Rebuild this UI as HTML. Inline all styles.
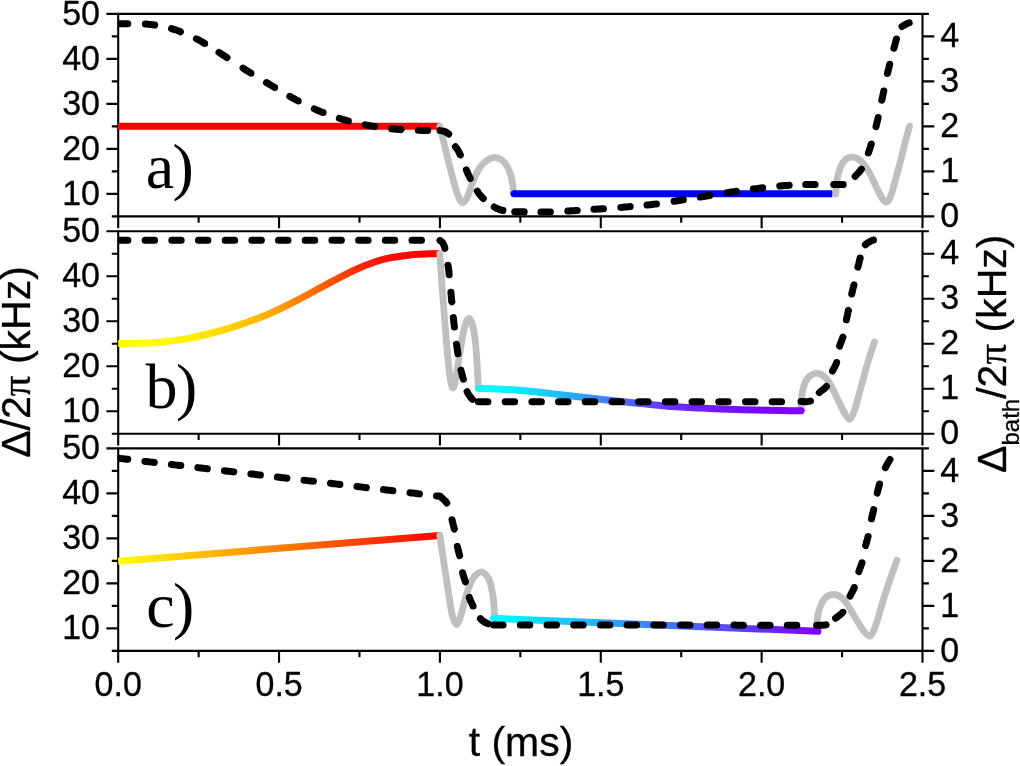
<!DOCTYPE html>
<html><head><meta charset="utf-8"><title>Detuning ramps</title>
<style>html,body{margin:0;padding:0;background:#fff;overflow:hidden}svg{display:block}</style>
</head><body>
<svg width="1020" height="766" viewBox="0 0 1020 766">
<defs>
<linearGradient id="gb1" gradientUnits="userSpaceOnUse" x1="118.2" y1="0" x2="439.6" y2="0"><stop offset="0.000" stop-color="#ffff00"/><stop offset="0.058" stop-color="#fffe00"/><stop offset="0.118" stop-color="#fffc00"/><stop offset="0.205" stop-color="#fff200"/><stop offset="0.292" stop-color="#ffe100"/><stop offset="0.380" stop-color="#ffc900"/><stop offset="0.467" stop-color="#ffac00"/><stop offset="0.554" stop-color="#ff8500"/><stop offset="0.650" stop-color="#ff5700"/><stop offset="0.746" stop-color="#ff2a00"/><stop offset="0.834" stop-color="#ff0e00"/><stop offset="0.921" stop-color="#ff0300"/><stop offset="0.970" stop-color="#ff0100"/><stop offset="1.000" stop-color="#ff0000"/></linearGradient>
<linearGradient id="gb2" gradientUnits="userSpaceOnUse" x1="478.6" y1="0" x2="801.2" y2="0"><stop offset="0.000" stop-color="#00ffff"/><stop offset="0.083" stop-color="#06f4ff"/><stop offset="0.165" stop-color="#12dcff"/><stop offset="0.247" stop-color="#22bbff"/><stop offset="0.329" stop-color="#3399ff"/><stop offset="0.411" stop-color="#4576ff"/><stop offset="0.493" stop-color="#5557ff"/><stop offset="0.531" stop-color="#5b49ff"/><stop offset="0.600" stop-color="#6731ff"/><stop offset="0.687" stop-color="#711fff"/><stop offset="0.774" stop-color="#7712ff"/><stop offset="0.861" stop-color="#7b09ff"/><stop offset="0.934" stop-color="#7e03ff"/><stop offset="1.000" stop-color="#8000ff"/></linearGradient>
<linearGradient id="gc1" gradientUnits="userSpaceOnUse" x1="118.2" y1="0" x2="439.6" y2="0"><stop offset="0.000" stop-color="#ffff00"/><stop offset="1.000" stop-color="#ff0000"/></linearGradient>
<linearGradient id="gc2" gradientUnits="userSpaceOnUse" x1="493.5" y1="0" x2="817.9" y2="0"><stop offset="0.000" stop-color="#00ffff"/><stop offset="1.000" stop-color="#8000ff"/></linearGradient>
<clipPath id="clipa"><rect x="117.9" y="13.9" width="804.5999999999999" height="202.5"/></clipPath>
<clipPath id="clipb"><rect x="117.9" y="231.2" width="804.5999999999999" height="202.5"/></clipPath>
<clipPath id="clipc"><rect x="117.9" y="448.4" width="804.5999999999999" height="202.5"/></clipPath>
</defs>
<rect width="1020" height="766" fill="#fff"/>
<g stroke="#000" stroke-width="2.1" fill="none" stroke-linecap="butt">
<path d="M118.2,13.9 H922.5 M118.2,216.4 H922.5 M118.2,12.9 V217.4 M922.5,12.9 V217.4"/>
<path d="M118.2,216.40 h-6.4 M118.2,193.90 h-11.8 M118.2,171.40 h-6.4 M118.2,148.90 h-11.8 M118.2,126.40 h-6.4 M118.2,103.90 h-11.8 M118.2,81.40 h-6.4 M118.2,58.90 h-11.8 M118.2,36.40 h-6.4 M118.2,13.90 h-11.8 M922.5,216.40 h11.8 M922.5,193.90 h6.4 M922.5,171.40 h11.8 M922.5,148.90 h6.4 M922.5,126.40 h11.8 M922.5,103.90 h6.4 M922.5,81.40 h11.8 M922.5,58.90 h6.4 M922.5,36.40 h11.8 M922.5,13.90 h6.4 M118.20,216.4 v11.8 M198.63,216.4 v6.4 M279.06,216.4 v11.8 M359.49,216.4 v6.4 M439.92,216.4 v11.8 M520.35,216.4 v6.4 M600.78,216.4 v11.8 M681.21,216.4 v6.4 M761.64,216.4 v11.8 M842.07,216.4 v6.4 M922.50,216.4 v11.8 "/>
<path d="M118.2,231.2 H922.5 M118.2,433.7 H922.5 M118.2,230.2 V434.7 M922.5,230.2 V434.7"/>
<path d="M118.2,433.70 h-6.4 M118.2,411.20 h-11.8 M118.2,388.70 h-6.4 M118.2,366.20 h-11.8 M118.2,343.70 h-6.4 M118.2,321.20 h-11.8 M118.2,298.70 h-6.4 M118.2,276.20 h-11.8 M118.2,253.70 h-6.4 M118.2,231.20 h-11.8 M922.5,433.70 h11.8 M922.5,411.20 h6.4 M922.5,388.70 h11.8 M922.5,366.20 h6.4 M922.5,343.70 h11.8 M922.5,321.20 h6.4 M922.5,298.70 h11.8 M922.5,276.20 h6.4 M922.5,253.70 h11.8 M922.5,231.20 h6.4 M118.20,433.7 v11.8 M198.63,433.7 v6.4 M279.06,433.7 v11.8 M359.49,433.7 v6.4 M439.92,433.7 v11.8 M520.35,433.7 v6.4 M600.78,433.7 v11.8 M681.21,433.7 v6.4 M761.64,433.7 v11.8 M842.07,433.7 v6.4 M922.50,433.7 v11.8 "/>
<path d="M118.2,448.4 H922.5 M118.2,650.9 H922.5 M118.2,447.4 V651.9 M922.5,447.4 V651.9"/>
<path d="M118.2,650.90 h-6.4 M118.2,628.40 h-11.8 M118.2,605.90 h-6.4 M118.2,583.40 h-11.8 M118.2,560.90 h-6.4 M118.2,538.40 h-11.8 M118.2,515.90 h-6.4 M118.2,493.40 h-11.8 M118.2,470.90 h-6.4 M118.2,448.40 h-11.8 M922.5,650.90 h11.8 M922.5,628.40 h6.4 M922.5,605.90 h11.8 M922.5,583.40 h6.4 M922.5,560.90 h11.8 M922.5,538.40 h6.4 M922.5,515.90 h11.8 M922.5,493.40 h6.4 M922.5,470.90 h11.8 M922.5,448.40 h6.4 M118.20,650.9 v11.8 M198.63,650.9 v6.4 M279.06,650.9 v11.8 M359.49,650.9 v6.4 M439.92,650.9 v11.8 M520.35,650.9 v6.4 M600.78,650.9 v11.8 M681.21,650.9 v6.4 M761.64,650.9 v11.8 M842.07,650.9 v6.4 M922.50,650.9 v11.8 "/>
</g>
<g clip-path="url(#clipa)">
<path d="M117.9,126.2 L439.9,126.2" stroke="#ff0000" stroke-width="7.0" fill="none"/>
<path d="M439.9,126.1C441.5,132.6 443.0,139.2 444.6,145.7C446.4,153.0 448.2,160.4 450.1,167.7C451.8,174.5 453.5,181.3 455.5,188.0C456.6,191.8 457.7,195.8 459.5,199.2C460.2,200.6 462.0,202.8 463.1,202.5C464.6,202.1 466.3,199.1 467.3,197.0C469.8,191.6 471.3,185.7 473.6,180.2C475.4,175.9 477.2,171.5 479.8,167.7C481.9,164.7 484.6,161.7 487.7,159.8C490.1,158.3 493.6,157.0 496.3,157.5C499.4,158.1 502.8,160.5 504.9,163.0C507.5,166.0 509.1,170.1 510.4,173.9C511.8,177.9 512.3,182.3 513.0,186.5C513.4,188.9 513.3,191.3 513.5,193.7" fill="none" stroke="#bfbfbf" stroke-width="6.8" stroke-linecap="round" stroke-linejoin="round" />
<path d="M835.7,194.0C836.1,189.4 836.1,184.7 836.9,180.2C837.8,175.4 839.0,170.5 840.9,166.1C842.1,163.4 844.1,160.7 846.3,159.0C848.0,157.7 850.6,157.0 852.6,157.2C855.3,157.5 858.3,158.8 860.4,160.6C863.6,163.3 866.1,167.2 868.3,170.8C871.0,175.3 873.0,180.2 875.3,184.9C877.4,189.1 879.2,193.5 881.6,197.4C882.7,199.2 884.6,202.1 886.0,202.1C887.4,202.1 889.4,199.3 890.2,197.4C892.3,192.5 893.4,187.0 894.9,181.8C897.1,174.0 899.2,166.1 901.2,158.3C902.8,152.0 904.3,145.8 905.9,139.5C907.1,135.0 908.3,130.6 909.5,126.1" fill="none" stroke="#bfbfbf" stroke-width="6.8" stroke-linecap="round" stroke-linejoin="round" />
<path d="M514.0,193.7 L832.3,193.7" stroke="#0000ff" stroke-width="7.0" fill="none"/>
<circle cx="514.0" cy="193.7" r="3.5" fill="#0000ff"/>
<path d="M118.3,23.7 L120.1,23.7 L121.6,23.7 L123.2,23.7 L124.7,23.7 L126.3,23.7 L127.8,23.7 L127.8,23.7 M145.3,24.1 L146.9,24.1 L148.4,24.3 L150.0,24.4 L151.6,24.6 L153.1,24.8 L154.7,25.0 L154.7,25.0 M171.5,28.6 L173.0,29.1 L174.5,29.5 L176.0,30.0 L177.5,30.5 L178.9,31.1 L180.3,31.6 L180.4,31.7 M196.4,38.8 L197.9,39.5 L199.2,40.2 L200.6,41.0 L201.9,41.8 L203.3,42.6 L204.6,43.4 L204.7,43.4 M219.0,52.4 L220.4,53.3 L221.7,54.2 L223.0,55.0 L224.3,55.8 L225.6,56.7 L226.9,57.5 L227.0,57.6 M243.0,68.1 L244.4,69.0 L245.7,69.9 L247.0,70.7 L248.3,71.5 L249.6,72.3 L250.9,73.2 L251.0,73.2 M266.5,82.6 L267.9,83.4 L269.3,84.2 L270.6,85.0 L271.9,85.8 L273.2,86.6 L274.6,87.4 L274.7,87.4 M289.8,96.4 L291.3,97.2 L292.6,98.0 L294.0,98.7 L295.4,99.4 L296.7,100.2 L298.1,100.9 L298.2,100.9 M314.3,108.9 L315.9,109.6 L317.3,110.2 L318.7,110.8 L320.1,111.4 L321.6,112.0 L323.0,112.6 L323.1,112.6 M339.3,118.3 L340.8,118.8 L342.3,119.3 L343.8,119.7 L345.3,120.1 L346.8,120.5 L348.3,121.0 L348.4,121.0 M365.3,124.9 L367.0,125.2 L368.5,125.5 L370.0,125.8 L371.5,126.1 L373.0,126.3 L374.6,126.6 L374.7,126.6 M391.6,128.8 L393.2,128.9 L394.8,129.1 L396.3,129.2 L397.8,129.3 L399.4,129.4 L400.9,129.5 L401.0,129.6 M418.3,130.3 L419.9,130.3 L421.4,130.4 L423.0,130.4 L424.6,130.4 L426.1,130.5 L427.7,130.5 L427.7,130.5" fill="none" stroke="#000" stroke-width="7.0" stroke-linecap="round" stroke-linejoin="round"/>
<path d="M440.0,130.6 L441.9,130.9 L443.5,131.1 L445.0,131.6 L446.4,132.4 L447.8,133.3 L448.7,134.0 M455.4,146.8 L456.4,148.0 L457.4,149.3 L458.2,150.6 L458.9,152.0 L459.6,153.4 L460.2,154.8 L460.3,154.9 M466.3,169.9 L467.0,171.5 L467.6,172.9 L468.2,174.3 L468.9,175.7 L469.6,177.1 L470.3,178.6 L470.3,178.6 M477.3,191.1 L478.2,192.5 L479.1,193.8 L480.1,195.0 L481.1,196.2 L482.2,197.4 L483.3,198.5 L483.3,198.5 M494.2,207.0 L495.6,207.8 L497.0,208.5 L498.4,209.1 L499.9,209.7 L501.4,210.1 L502.9,210.5 L502.9,210.5" fill="none" stroke="#000" stroke-width="7.0" stroke-linecap="round" stroke-linejoin="round"/>
<path d="M514.7,211.7 L516.5,211.7 L518.0,211.7 L519.6,211.8 L521.1,211.8 L522.7,211.8 L524.2,211.8 L524.2,211.9 M540.9,212.0 L542.5,212.0 L544.1,212.0 L545.6,212.0 L547.2,212.0 L548.7,211.9 L550.3,211.9 L550.4,211.9 M567.8,211.0 L569.4,210.9 L571.0,210.8 L572.5,210.8 L574.0,210.7 L575.6,210.6 L577.1,210.5 L577.2,210.5 M594.0,209.3 L595.7,209.2 L597.2,209.1 L598.8,209.0 L600.3,208.9 L601.8,208.8 L603.4,208.7 L603.5,208.7 M620.8,207.4 L622.4,207.3 L624.0,207.1 L625.5,207.0 L627.0,206.9 L628.6,206.7 L630.1,206.6 L630.2,206.6 M647.0,205.0 L648.7,204.9 L650.2,204.7 L651.8,204.5 L653.3,204.3 L654.8,204.1 L656.4,203.9 L656.5,203.9 M674.1,201.2 L675.7,201.0 L677.2,200.7 L678.8,200.5 L680.3,200.3 L681.8,200.0 L683.3,199.8 L683.4,199.8 M700.3,197.0 L701.9,196.7 L703.5,196.5 L705.0,196.2 L706.5,196.0 L708.0,195.8 L709.6,195.5 L709.7,195.5 M727.1,192.7 L728.7,192.5 L730.2,192.2 L731.8,192.0 L733.3,191.8 L734.8,191.6 L736.3,191.3 L736.4,191.3 M753.3,189.0 L754.9,188.8 L756.5,188.6 L758.0,188.4 L759.5,188.2 L761.1,188.0 L762.6,187.8 L762.7,187.8 M779.8,186.0 L781.4,185.8 L783.0,185.7 L784.5,185.6 L786.0,185.5 L787.6,185.4 L789.1,185.3 L789.2,185.3 M805.7,184.6 L807.3,184.6 L808.9,184.5 L810.4,184.5 L811.9,184.5 L813.5,184.4 L815.0,184.4 L815.1,184.4" fill="none" stroke="#000" stroke-width="7.0" stroke-linecap="round" stroke-linejoin="round"/>
<path d="M833.7,184.5 L835.5,184.5 L837.0,184.5 L838.5,184.6 L840.1,184.5 L841.6,184.5 L843.2,184.4 L843.2,184.4 M855.1,176.3 L856.2,175.1 L857.3,174.0 L858.4,172.9 L859.5,171.7 L860.5,170.4 L861.4,169.2 M868.4,153.0 L868.9,151.5 L869.4,150.0 L869.9,148.5 L870.4,147.0 L870.8,145.5 L871.2,144.0 L871.3,144.0 M876.0,126.7 L876.4,125.1 L876.7,123.6 L877.1,122.1 L877.5,120.6 L877.8,119.1 L878.2,117.6 L878.2,117.5 M881.8,100.2 L882.2,98.6 L882.5,97.1 L882.8,95.6 L883.1,94.1 L883.5,92.6 L883.8,91.0 L883.8,91.0 M887.5,73.5 L887.9,71.9 L888.2,70.4 L888.6,68.9 L889.0,67.4 L889.3,65.9 L889.7,64.4 L889.7,64.3 M893.9,48.2 L894.4,46.6 L894.8,45.1 L895.2,43.6 L895.6,42.1 L896.0,40.6 L896.5,39.1 L896.5,39.0 M902.0,26.6 L903.3,25.7 L904.7,24.9 L906.1,24.2 L907.5,23.5 L908.9,22.9 L909.2,22.8" fill="none" stroke="#000" stroke-width="7.0" stroke-linecap="round" stroke-linejoin="round"/>
</g>
<g clip-path="url(#clipb)">
<path d="M118.2,343.6C124.5,343.5 130.7,343.5 137.0,343.3C143.4,343.1 149.8,343.2 156.1,342.6C165.5,341.8 174.9,340.7 184.2,339.1C193.6,337.5 203.0,335.4 212.2,333.0C221.7,330.6 231.0,327.7 240.3,324.6C249.7,321.4 259.1,318.1 268.3,314.2C277.8,310.1 287.1,305.4 296.4,300.7C306.7,295.4 316.7,289.6 327.0,284.2C337.3,278.8 347.4,273.1 358.0,268.5C367.1,264.6 376.5,261.1 386.1,258.7C395.2,256.4 404.8,255.5 414.2,254.5C419.4,253.9 424.7,254.0 430.0,253.8C433.2,253.7 436.4,253.7 439.6,253.6" fill="none" stroke="url(#gb1)" stroke-width="7.0" stroke-linecap="butt" stroke-linejoin="round" />
<path d="M439.8,253.6C440.6,265.7 441.4,277.9 442.3,290.0C443.2,302.4 444.3,314.8 445.3,327.2C446.3,339.6 447.2,352.0 448.5,364.4C449.1,370.6 449.8,376.9 451.0,383.0C451.3,384.8 452.4,388.2 453.0,388.0C453.8,387.8 454.8,383.9 455.2,381.8C456.8,373.6 457.8,365.3 459.2,357.0C460.6,348.7 461.7,340.4 463.4,332.2C464.2,328.4 465.1,324.5 466.6,321.0C467.0,319.9 468.4,318.2 469.1,318.5C470.2,319.0 471.6,321.7 472.1,323.5C473.6,328.7 474.4,334.2 475.1,339.6C476.1,347.8 476.5,356.1 477.1,364.4C477.6,371.9 477.9,379.3 478.3,386.8" fill="none" stroke="#bfbfbf" stroke-width="6.8" stroke-linecap="round" stroke-linejoin="round" />
<path d="M800.9,409.5C801.5,402.9 801.3,396.1 802.8,389.7C803.8,385.4 805.5,380.5 808.3,377.4C810.5,375.0 814.9,372.9 817.9,373.3C821.3,373.8 825.2,377.1 827.5,380.1C831.6,385.3 834.0,392.0 837.1,398.0C839.9,403.4 842.1,409.2 845.3,414.4C846.4,416.3 848.8,419.8 850.0,419.1C852.0,417.9 853.7,412.5 854.9,408.9C857.6,400.8 859.5,392.4 861.8,384.2C864.1,376.0 866.2,367.7 868.6,359.6C870.4,353.7 872.5,347.9 874.4,342.0" fill="none" stroke="#bfbfbf" stroke-width="6.8" stroke-linecap="round" stroke-linejoin="round" />
<path d="M478.6,388.4C487.5,388.7 496.4,388.9 505.3,389.4C514.1,389.9 523.0,390.7 531.8,391.5C540.6,392.3 549.4,393.4 558.2,394.4C567.0,395.4 575.9,396.4 584.7,397.4C593.5,398.4 602.4,399.4 611.2,400.4C620.0,401.4 628.8,402.3 637.6,403.2C641.7,403.6 645.9,404.0 650.0,404.4C657.4,405.1 664.8,406.0 672.2,406.5C681.6,407.2 690.9,407.6 700.3,408.1C709.6,408.5 719.0,408.9 728.3,409.2C737.7,409.5 747.0,409.8 756.4,410.0C764.3,410.2 772.1,410.4 780.0,410.5C787.1,410.6 794.1,410.7 801.2,410.8" fill="none" stroke="url(#gb2)" stroke-width="7.0" stroke-linecap="round" stroke-linejoin="round" />
<path d="M118.4,240.3 L120.2,240.3 L121.8,240.3 L123.4,240.3 L125.0,240.3 L126.6,240.3 L127.9,240.3 M145.1,240.3 L146.6,240.3 L148.2,240.3 L149.8,240.3 L151.4,240.3 L153.0,240.3 L154.6,240.3 M171.8,240.3 L173.4,240.3 L175.0,240.3 L176.6,240.3 L178.2,240.3 L179.8,240.3 L181.2,240.3 M198.4,240.3 L200.2,240.3 L201.8,240.3 L203.4,240.3 L205.0,240.3 L206.6,240.3 L207.9,240.3 M225.2,240.3 L227.0,240.3 L228.6,240.3 L230.2,240.3 L231.8,240.3 L233.4,240.3 L234.7,240.3 M251.8,240.3 L253.4,240.3 L255.0,240.3 L256.6,240.3 L258.2,240.3 L259.8,240.3 L261.4,240.3 M278.5,240.3 L280.3,240.3 L281.9,240.3 L283.5,240.3 L285.1,240.3 L286.7,240.3 L288.0,240.3 M305.2,240.3 L307.1,240.3 L308.7,240.3 L310.3,240.3 L311.9,240.3 L313.5,240.3 L314.8,240.3 M331.9,240.3 L333.5,240.3 L335.1,240.3 L336.7,240.3 L338.3,240.3 L339.9,240.3 L341.4,240.3 M358.6,240.3 L360.3,240.3 L361.9,240.3 L363.5,240.3 L365.1,240.3 L366.7,240.3 L368.1,240.3 M385.3,240.3 L387.1,240.3 L388.7,240.3 L390.3,240.3 L391.9,240.3 L393.5,240.3 L394.8,240.3 M412.0,240.3 L413.9,240.3 L415.5,240.3 L417.1,240.3 L418.7,240.3 L420.3,240.3 L421.5,240.3" fill="none" stroke="#000" stroke-width="7.0" stroke-linecap="round" stroke-linejoin="round"/>
<path d="M440.0,240.4 L441.4,241.5 L442.5,242.7 L443.3,244.0 L444.0,245.4 L444.5,246.9 L444.9,248.3 M448.0,265.3 L448.3,266.9 L448.5,268.5 L448.7,270.0 L448.9,271.5 L449.0,273.1 L449.2,274.6 L449.2,274.7 M450.9,292.3 L451.0,293.9 L451.2,295.5 L451.3,297.0 L451.5,298.5 L451.6,300.1 L451.7,301.6 L451.8,301.7 M453.3,317.6 L453.5,319.2 L453.7,320.8 L453.8,322.3 L454.0,323.8 L454.2,325.4 L454.4,326.9 L454.4,327.0 M456.5,344.3 L456.8,345.9 L457.0,347.5 L457.2,349.0 L457.4,350.5 L457.6,352.1 L457.9,353.6 L457.9,353.7 M460.9,370.1 L461.3,371.7 L461.7,373.2 L462.1,374.7 L462.5,376.3 L463.0,377.8 L463.4,379.3 L463.4,379.3 M467.1,391.6 L467.8,393.1 L468.6,394.5 L469.5,395.7 L470.4,397.0 L471.4,398.3 L472.5,399.4" fill="none" stroke="#000" stroke-width="7.0" stroke-linecap="round" stroke-linejoin="round"/>
<path d="M478.4,401.7 L480.3,401.7 L481.9,401.7 L483.5,401.7 L485.1,401.7 L486.7,401.7 L487.9,401.7 M505.2,401.7 L506.7,401.7 L508.3,401.7 L509.9,401.7 L511.5,401.7 L513.1,401.7 L514.6,401.7 M531.9,401.7 L533.5,401.7 L535.1,401.7 L536.7,401.7 L538.3,401.7 L539.9,401.7 L541.4,401.7 M558.5,401.7 L560.4,401.7 L562.0,401.7 L563.6,401.7 L565.2,401.7 L566.8,401.7 L568.0,401.7 M585.2,401.7 L586.8,401.7 L588.4,401.7 L590.0,401.7 L591.6,401.7 L593.2,401.7 L594.8,401.7 M612.0,401.7 L613.6,401.7 L615.2,401.7 L616.8,401.7 L618.4,401.7 L620.0,401.7 L621.5,401.7 M638.6,401.7 L640.4,401.7 L642.0,401.7 L643.6,401.7 L645.2,401.7 L646.8,401.7 L648.1,401.7 M665.4,401.7 L667.2,401.7 L668.8,401.7 L670.4,401.7 L672.0,401.7 L673.6,401.7 L674.9,401.7 M692.0,401.7 L693.6,401.7 L695.2,401.7 L696.8,401.7 L698.4,401.7 L700.0,401.7 L701.5,401.7 M718.8,401.7 L720.5,401.7 L722.1,401.7 L723.7,401.7 L725.3,401.7 L726.9,401.7 L728.2,401.7 M745.5,401.7 L747.3,401.7 L748.9,401.7 L750.5,401.7 L752.1,401.7 L753.7,401.7 L755.0,401.7 M772.1,401.7 L773.7,401.7 L775.3,401.7 L776.9,401.7 L778.5,401.7 L780.1,401.7 L781.6,401.7" fill="none" stroke="#000" stroke-width="7.0" stroke-linecap="round" stroke-linejoin="round"/>
<path d="M801.0,401.6 L802.8,401.6 L804.4,401.7 L805.9,401.7 L807.5,401.6 L809.1,401.4 L810.5,401.0 M819.3,392.6 L820.5,391.6 L821.8,390.6 L823.0,389.6 L824.2,388.7 L825.4,387.6 L826.4,386.5 L826.5,386.4 M832.5,371.1 L833.2,369.6 L833.9,368.3 L834.7,366.9 L835.4,365.5 L836.1,364.1 L836.7,362.7 L836.7,362.6 M839.6,346.1 L840.1,344.5 L840.7,343.1 L841.2,341.6 L841.8,340.1 L842.4,338.7 L842.8,337.2 L842.9,337.1 M846.4,319.8 L846.7,318.2 L847.1,316.7 L847.4,315.1 L847.7,313.6 L848.0,312.1 L848.3,310.6 L848.4,310.5 M851.7,294.0 L852.1,292.5 L852.5,290.9 L852.8,289.4 L853.2,287.9 L853.6,286.3 L854.0,284.8 L854.0,284.8 M857.9,267.2 L858.3,265.6 L858.7,264.0 L859.0,262.5 L859.4,261.0 L859.8,259.5 L860.2,258.0 L860.2,257.9 M865.4,244.8 L866.6,243.8 L867.8,242.8 L869.2,242.0 L870.5,241.2 L872.0,240.6 L873.4,240.0 L873.5,240.0" fill="none" stroke="#000" stroke-width="7.0" stroke-linecap="round" stroke-linejoin="round"/>
</g>
<g clip-path="url(#clipc)">
<path d="M118.2,561.2 L439.6,535.4" fill="none" stroke="url(#gc1)" stroke-width="7.0" stroke-linecap="butt" stroke-linejoin="round" />
<path d="M439.8,535.3C441.2,544.7 442.6,554.1 444.0,563.5C445.4,572.6 446.7,581.6 448.2,590.7C449.5,599.0 450.4,607.6 452.4,615.7C453.2,618.8 455.1,624.5 456.5,624.5C457.9,624.5 459.7,618.8 460.7,615.7C463.2,608.2 464.5,600.3 467.0,592.8C468.7,587.8 470.3,582.3 473.2,578.1C475.1,575.3 479.0,571.7 481.6,571.9C484.2,572.1 487.5,576.2 488.9,579.2C491.3,584.5 492.2,590.9 493.1,596.9C494.2,603.8 494.2,610.8 494.8,617.8" fill="none" stroke="#bfbfbf" stroke-width="6.8" stroke-linecap="round" stroke-linejoin="round" />
<path d="M816.5,628.2C817.2,622.9 817.1,617.4 818.5,612.3C819.8,607.5 821.7,602.1 824.8,598.6C827.0,596.2 831.3,594.3 834.4,594.5C837.7,594.7 841.5,597.4 844.0,600.0C847.9,604.2 850.4,610.0 853.6,615.0C856.8,620.0 859.6,625.4 863.2,630.1C865.0,632.5 868.2,636.8 870.0,636.2C872.3,635.4 874.2,629.6 875.5,626.0C878.7,617.1 880.8,607.7 883.7,598.6C886.3,590.3 889.2,582.1 892.0,573.9C893.6,569.3 895.3,564.8 896.9,560.2" fill="none" stroke="#bfbfbf" stroke-width="6.8" stroke-linecap="round" stroke-linejoin="round" />
<path d="M493.5,618.3 L817.9,631.3" fill="none" stroke="url(#gc2)" stroke-width="7.0" stroke-linecap="round" stroke-linejoin="round" />
<path d="M118.3,458.2 L120.2,458.4 L121.8,458.6 L123.4,458.8 L125.0,459.0 L126.6,459.2 L127.8,459.3 M144.9,461.4 L146.4,461.5 L148.0,461.7 L149.6,461.9 L151.2,462.1 L152.8,462.3 L154.3,462.5 M171.4,464.5 L173.1,464.7 L174.7,464.9 L176.3,465.1 L177.8,465.3 L179.4,465.5 L180.8,465.6 M197.9,467.6 L199.7,467.9 L201.3,468.0 L202.9,468.2 L204.5,468.4 L206.1,468.6 L207.3,468.8 M224.4,470.8 L226.0,471.0 L227.6,471.2 L229.1,471.3 L230.7,471.5 L232.3,471.7 L233.8,471.9 M250.9,473.9 L252.6,474.1 L254.2,474.3 L255.8,474.5 L257.4,474.7 L259.0,474.9 L260.4,475.0 M277.4,477.1 L279.2,477.3 L280.8,477.5 L282.4,477.7 L284.0,477.8 L285.6,478.0 L286.9,478.2 M304.0,480.2 L305.5,480.4 L307.1,480.6 L308.7,480.8 L310.3,480.9 L311.9,481.1 L313.4,481.3 M330.5,483.3 L332.1,483.5 L333.7,483.7 L335.3,483.9 L336.9,484.1 L338.5,484.3 L339.9,484.5 M357.0,486.5 L358.8,486.7 L360.4,486.9 L362.0,487.1 L363.6,487.3 L365.1,487.4 L366.4,487.6 M383.5,489.6 L385.0,489.8 L386.6,490.0 L388.2,490.2 L389.8,490.4 L391.4,490.6 L392.9,490.7 M410.0,492.8 L411.7,493.0 L413.3,493.1 L414.8,493.3 L416.4,493.5 L418.0,493.7 L419.4,493.9 M436.5,495.9 L438.3,496.1 L439.9,496.3" fill="none" stroke="#000" stroke-width="7.0" stroke-linecap="round" stroke-linejoin="round"/>
<path d="M440.0,496.4 L441.4,497.5 L442.6,498.5 L443.7,499.5 L444.9,500.7 L446.0,501.8 L446.8,503.0 M452.0,519.7 L452.4,521.3 L452.8,522.8 L453.1,524.3 L453.5,525.9 L453.9,527.4 L454.2,528.9 L454.3,529.0 M457.3,546.4 L457.7,547.9 L458.1,549.5 L458.4,551.0 L458.8,552.5 L459.2,554.1 L459.6,555.6 L459.6,555.6 M462.6,572.7 L463.0,574.3 L463.5,575.8 L463.9,577.3 L464.4,578.7 L464.9,580.2 L465.3,581.7 L465.4,581.8 M469.3,597.4 L469.8,598.9 L470.4,600.4 L471.1,601.8 L471.7,603.2 L472.4,604.6 L473.1,606.0 L473.1,606.1 M480.4,618.6 L481.5,619.8 L482.7,620.8 L484.0,621.7 L485.3,622.5 L486.7,623.2 L488.2,623.8" fill="none" stroke="#000" stroke-width="7.0" stroke-linecap="round" stroke-linejoin="round"/>
<path d="M493.6,625.0 L495.5,625.0 L497.1,625.0 L498.7,625.0 L500.3,625.0 L501.9,625.0 L503.1,625.0 M520.3,625.0 L521.9,625.0 L523.5,625.0 L525.1,625.0 L526.7,625.0 L528.3,625.0 L529.8,625.0 M547.0,625.0 L548.7,625.0 L550.3,625.0 L551.9,625.0 L553.5,625.0 L555.1,625.0 L556.5,625.0 M573.7,625.0 L575.6,625.1 L577.2,625.1 L578.8,625.1 L580.4,625.1 L582.0,625.1 L583.2,625.1 M600.4,625.1 L602.0,625.1 L603.6,625.1 L605.2,625.1 L606.8,625.1 L608.4,625.1 L609.9,625.1 M627.1,625.1 L628.8,625.1 L630.4,625.1 L632.0,625.1 L633.6,625.1 L635.2,625.1 L636.6,625.1 M653.8,625.1 L655.6,625.1 L657.2,625.1 L658.8,625.1 L660.4,625.1 L662.0,625.1 L663.3,625.1 M680.5,625.1 L682.4,625.1 L684.0,625.1 L685.6,625.1 L687.2,625.1 L688.8,625.1 L690.0,625.1 M707.2,625.1 L708.8,625.1 L710.4,625.1 L712.0,625.1 L713.6,625.1 L715.2,625.1 L716.7,625.1 M733.9,625.1 L735.6,625.1 L737.3,625.2 L738.9,625.2 L740.5,625.2 L742.1,625.2 L743.4,625.2 M760.6,625.2 L762.5,625.2 L764.1,625.2 L765.7,625.2 L767.3,625.2 L768.9,625.2 L770.1,625.2 M787.3,625.2 L788.9,625.2 L790.5,625.2 L792.1,625.2 L793.7,625.2 L795.3,625.2 L796.8,625.2" fill="none" stroke="#000" stroke-width="7.0" stroke-linecap="round" stroke-linejoin="round"/>
<path d="M816.6,625.2 L818.4,625.2 L820.0,625.3 L821.6,625.3 L823.2,625.2 L824.8,625.1 L826.1,624.8 M835.6,618.2 L836.9,617.3 L838.1,616.3 L839.4,615.4 L840.6,614.4 L841.8,613.4 L842.9,612.3 L842.9,612.2 M850.0,596.1 L850.7,594.7 L851.5,593.3 L852.2,591.9 L853.0,590.5 L853.7,589.1 L854.3,587.7 L854.3,587.6 M858.8,571.7 L859.3,570.1 L859.8,568.7 L860.4,567.2 L860.9,565.7 L861.5,564.3 L862.0,562.8 L862.0,562.7 M865.6,545.6 L866.0,544.1 L866.4,542.6 L866.9,541.1 L867.3,539.6 L867.7,538.0 L868.1,536.5 L868.1,536.5 M871.5,518.8 L871.8,517.3 L872.2,515.7 L872.6,514.2 L873.0,512.7 L873.4,511.2 L873.7,509.6 L873.7,509.6 M877.2,493.2 L877.6,491.7 L877.9,490.1 L878.3,488.6 L878.7,487.1 L879.1,485.6 L879.6,484.1 L879.6,484.0 M885.4,467.7 L886.1,466.3 L886.8,464.9 L887.6,463.6 L888.4,462.2 L889.2,460.8 L890.0,459.5" fill="none" stroke="#000" stroke-width="7.0" stroke-linecap="round" stroke-linejoin="round"/>
</g>
<g font-family="'Liberation Sans', Arial, sans-serif" font-size="34" fill="#000" stroke="#000" stroke-width="0.3">
<text transform="translate(100.0,204.5) scale(1,1.04)" text-anchor="end" >10</text>
<text transform="translate(100.0,159.5) scale(1,1.04)" text-anchor="end" >20</text>
<text transform="translate(100.0,114.5) scale(1,1.04)" text-anchor="end" >30</text>
<text transform="translate(100.0,69.5) scale(1,1.04)" text-anchor="end" >40</text>
<text transform="translate(100.0,24.5) scale(1,1.04)" text-anchor="end" >50</text>
<text transform="translate(940.2,227.0) scale(1,1.04)" text-anchor="start" >0</text>
<text transform="translate(940.2,182.0) scale(1,1.04)" text-anchor="start" >1</text>
<text transform="translate(940.2,137.0) scale(1,1.04)" text-anchor="start" >2</text>
<text transform="translate(940.2,92.0) scale(1,1.04)" text-anchor="start" >3</text>
<text transform="translate(940.2,47.0) scale(1,1.04)" text-anchor="start" >4</text>
<text transform="translate(100.0,421.8) scale(1,1.04)" text-anchor="end" >10</text>
<text transform="translate(100.0,376.8) scale(1,1.04)" text-anchor="end" >20</text>
<text transform="translate(100.0,331.8) scale(1,1.04)" text-anchor="end" >30</text>
<text transform="translate(100.0,286.8) scale(1,1.04)" text-anchor="end" >40</text>
<text transform="translate(100.0,241.8) scale(1,1.04)" text-anchor="end" >50</text>
<text transform="translate(940.2,444.3) scale(1,1.04)" text-anchor="start" >0</text>
<text transform="translate(940.2,399.3) scale(1,1.04)" text-anchor="start" >1</text>
<text transform="translate(940.2,354.3) scale(1,1.04)" text-anchor="start" >2</text>
<text transform="translate(940.2,309.3) scale(1,1.04)" text-anchor="start" >3</text>
<text transform="translate(940.2,264.3) scale(1,1.04)" text-anchor="start" >4</text>
<text transform="translate(100.0,639.0) scale(1,1.04)" text-anchor="end" >10</text>
<text transform="translate(100.0,594.0) scale(1,1.04)" text-anchor="end" >20</text>
<text transform="translate(100.0,549.0) scale(1,1.04)" text-anchor="end" >30</text>
<text transform="translate(100.0,504.0) scale(1,1.04)" text-anchor="end" >40</text>
<text transform="translate(100.0,459.0) scale(1,1.04)" text-anchor="end" >50</text>
<text transform="translate(940.2,661.5) scale(1,1.04)" text-anchor="start" >0</text>
<text transform="translate(940.2,616.5) scale(1,1.04)" text-anchor="start" >1</text>
<text transform="translate(940.2,571.5) scale(1,1.04)" text-anchor="start" >2</text>
<text transform="translate(940.2,526.5) scale(1,1.04)" text-anchor="start" >3</text>
<text transform="translate(940.2,481.5) scale(1,1.04)" text-anchor="start" >4</text>
<text transform="translate(118.2,695.6) scale(1,1.04)" text-anchor="middle" >0.0</text>
<text transform="translate(279.1,695.6) scale(1,1.04)" text-anchor="middle" >0.5</text>
<text transform="translate(439.9,695.6) scale(1,1.04)" text-anchor="middle" >1.0</text>
<text transform="translate(600.8,695.6) scale(1,1.04)" text-anchor="middle" >1.5</text>
<text transform="translate(761.6,695.6) scale(1,1.04)" text-anchor="middle" >2.0</text>
<text transform="translate(922.5,695.6) scale(1,1.04)" text-anchor="middle" >2.5</text>
</g>
<g font-family="'Liberation Sans', Arial, sans-serif" font-size="41" fill="#000" stroke="#000" stroke-width="0.3">
<text transform="translate(521.0,756.4) scale(1,1.0)" text-anchor="middle" >t (ms)</text>
<text transform="translate(29.9,362) rotate(-90)" text-anchor="middle">Δ/2<tspan font-family="'Liberation Serif', serif">π</tspan> (kHz)</text>
<text transform="translate(1005.6,472.9) rotate(-90)">Δ<tspan font-size="24" dy="13.5">bath</tspan><tspan dy="-13.5">/2</tspan><tspan font-family="'Liberation Serif', serif">π</tspan> (kHz)</text>
</g>
<g font-family="'Liberation Serif', 'Times New Roman', serif" font-size="64" fill="#000">
<text x="145.8" y="188.3">a<tspan dx="-1.6">)</tspan></text>
<text x="145.5" y="408.4">b<tspan dx="-1.6">)</tspan></text>
<text x="146.3" y="627.2">c<tspan dx="-1.6">)</tspan></text>
</g>
</svg>
</body></html>
